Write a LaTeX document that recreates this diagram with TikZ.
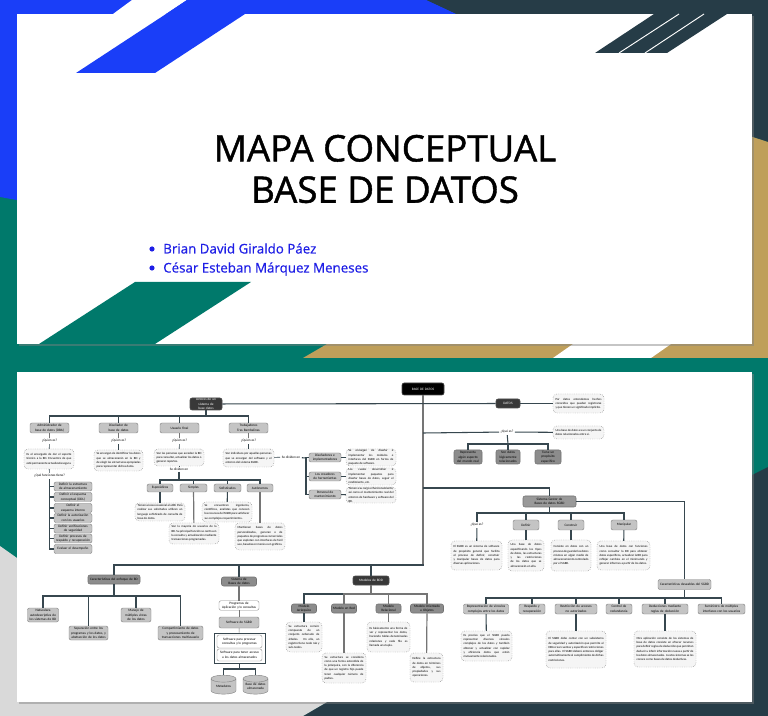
\documentclass[tikz,border=0pt]{standalone}
\usepackage{fontspec}
\setmainfont{Carlito}
\newfontfamily\titlefont[FakeBold=1.2]{Open Sans}
\newfontfamily\authorfont[FakeBold=0.5]{Open Sans}
\usetikzlibrary{shapes.geometric,shadows}

\definecolor{bgblue}{HTML}{1A3EF8}
\definecolor{bggreen}{HTML}{00796B}
\definecolor{bgdark}{HTML}{263C47}
\definecolor{bggold}{HTML}{BF9F5A}
\definecolor{bggray}{HTML}{D9D9D9}
\definecolor{authorblue}{HTML}{1E1EE6}
\definecolor{linedark}{HTML}{37474F}
\definecolor{linegray}{HTML}{757575}

\newcommand{\boxfont}{\fontsize{2.55}{3.3}\selectfont\hyphenpenalty=10000\tolerance=9999\emergencystretch=4pt}
\newcommand{\notefont}{\fontsize{2.3}{3.2}\selectfont\hyphenpenalty=10000\tolerance=9999\emergencystretch=4pt}

\tikzset{
	anybox/.style args={#1x#2}{rounded corners=1.5pt,align=center,inner sep=0pt,font=\boxfont,
		minimum width=#1*0.75pt,minimum height=#2*0.75pt,text width=(#1-2)*0.75pt},
	darkbox/.style={anybox=#1,fill=black!78,draw=black!70,text=white},
	midbox/.style={anybox=#1,fill=black!45,draw=black!55},
	graybox/.style={anybox=#1,fill=black!23,draw=black!50,line width=0.3pt},
	whitebox/.style={anybox=#1,fill=white,draw=black!45,line width=0.3pt},
	notebox/.style args={#1x#2}{rounded corners=3pt,align=justify,inner sep=0pt,font=\notefont,
		fill=black!4,draw=black!60,line width=0.35pt,densely dotted,
		minimum width=#1*0.75pt,minimum height=#2*0.75pt,text width=(#1-5)*0.75pt},
	asklabel/.style={font=\boxfont,inner sep=1pt},
	conn/.style={draw=linedark,line width=0.8pt},
	conngray/.style={draw=linegray,line width=0.9pt},
	datacyl/.style={cylinder,shape border rotate=90,aspect=0.35,fill=black!23,draw=black!50,
		line width=0.3pt,inner sep=0pt,minimum width=25*0.75pt,minimum height=19*0.75pt,
		align=center,font=\boxfont,text width=20*0.75pt}
}

\begin{document}
\begin{tikzpicture}[x=0.75pt,y=-0.75pt]
	\useasboundingbox (0,0) rectangle (768,716);

	% backgrounds
	\fill[bggreen] (0,0) rectangle (768,716);
	\fill[bgblue] (0,0) -- (426,0) -- (456,14) -- (456,100) -- (100,215) -- (0,197) -- cycle;
	\fill[bgdark] (426,0) -- (768,0) -- (768,142) -- (700,120) -- (456,14) -- cycle;
	\fill[bggold] (700,120) -- (768,142) -- (768,358) -- (303,358) -- (327,344) -- cycle;
	\fill[white] (573,344) -- (671,344) -- (651,358) -- (553,358) -- cycle;
	\fill[white] (132,0) -- (187,0) -- (166,14) -- (166,20) -- (113,20) -- (113,14) -- cycle;
	\fill[bgdark] (768,467) -- (768,716) -- (303,716) -- (327,702) -- (752,475) -- cycle;
	\fill[bggray] (0,546) -- (17,558) -- (327,702) -- (303,716) -- (0,716) -- cycle;

	\fill[white,drop shadow={shadow xshift=1.2pt,shadow yshift=-1.2pt,opacity=0.45}] (17,14) rectangle (752,344);
	\fill[white,drop shadow={shadow xshift=1.2pt,shadow yshift=-1.2pt,opacity=0.45}] (17,372) rectangle (752,702);

	\fill[bgblue] (166,14) -- (245,14) -- (155,73) -- (76,73) -- cycle;
	\fill[bgblue] (187,0) -- (426,0) -- (456,14) -- (166,14) -- cycle;
	\fill[bgdark] (654,14) -- (727,14) -- (667,53) -- (595,53) -- cycle;
	\draw[white,line width=0.7pt] (679,14) -- (619,53);
	\draw[white,line width=0.7pt] (704,14) -- (645,53);
	\fill[bggreen] (135,282) -- (251,282) -- (155,344) -- (39,344) -- cycle;

	% cover
	\node[font=\titlefont\fontsize{27.5}{31}\selectfont,align=center,inner sep=0pt] (maintitle) at (385,169) {MAPA CONCEPTUAL\\BASE DE DATOS};
	\node[font=\authorfont\fontsize{10}{14.3}\selectfont,align=left,anchor=west,inner sep=0pt,text=authorblue] (authors) at (163,259.5) {Brian David Giraldo Páez\\César Esteban Márquez Meneses};
	\fill[authorblue] (152,249) circle [radius=2.6];
	\fill[authorblue] (152,268) circle [radius=2.6];

	% root
	\node[darkbox=42x12,fill=black] (root) at (423,389) {BASE DE DATOS};
	\node[darkbox=32x12] (actores) at (206,404) {Actores de un sistema de base datos};
	\node[darkbox=24x9] (datos) at (508,403.5) {DATOS};
	\node[notebox=51x19] (datosnote) at (578.5,403.5) {Por datos entendemos hechos conocidos que pueden registrarse y que tienen un significado implícito.};
	\coordinate (rootbar) at (423,404);
	\coordinate (rootend) at (423,565);
	\draw[conngray,line width=1.2pt] (root) -- (rootend);
	\draw[conn] (actores) -- (datos);
	\draw[conn] (datos) -- (datosnote);

	% actores
	\node[graybox=39x10] (dba) at (49.5,428) {Administrador de base de datos (DBA)};
	\node[graybox=39x10] (disenador) at (118.5,428) {Diseñador de base de datos};
	\node[graybox=39x10] (usuario) at (179.5,428) {Usuario final};
	\node[graybox=39x10] (trabajador) at (248.5,428) {Trabajadores Tras Bambalinas};
	\coordinate (actoresbar) at (206,416);
	\draw[conn] (actores) -- (actoresbar);
	\foreach \n in {dba,disenador,usuario,trabajador}
		\draw[conn] (actoresbar) -| (\n);

	\node[asklabel] (dbaq) at (49.5,441) {¿Quién es?};
	\node[asklabel] (disenadorq) at (118.5,441) {¿Quién es?};
	\node[asklabel] (usuarioq) at (179.5,441) {¿Quién es?};
	\node[asklabel] (trabajadorq) at (248.5,441) {¿Quién es?};
	\node[notebox=50x20] (dbanote) at (49,459) {Es el encargado de dar el soporte técnico a la BD. Encuentra de que esté permanente actualizada segura.};
	\node[notebox=49x21] (disenadornote) at (118.5,460.5) {Se encargan de identificar los datos que se almacenarán en la BD y de elegir las estructuras apropiadas para representar dichos datos.};
	\node[notebox=50x17] (usuarionote) at (179,457.5) {Son las personas que acceden la BD para consultar, actualizar los datos o generar reportes.};
	\node[notebox=51x18] (trabajadornote) at (248.5,458) {Son individuos por aquellas personas que se encargan del software y el entorno del sistema SGBD.};
	\foreach \n in {dba,disenador,usuario,trabajador} {
		\draw[conngray,line width=0.4pt] (\n) -- (\n q);
		\draw[conn,line width=0.5pt] (\n q) -- (\n note);
	}

	\node[asklabel] (funcq) at (49.5,476) {¿Qué funciones tiene?};
	\draw[conn,line width=0.5pt] (dbanote) -- (funcq);
	\coordinate (funcbar) at (49.5,482);
	\draw[conn] (funcq) -- (funcbar);
	\node[graybox=38x9] (func1) at (73,486.5) {Definir la estructura de almacenamiento};
	\node[graybox=38x9] (func2) at (73,497) {Definir el esquema conceptual (DDL)};
	\node[graybox=38x9] (func3) at (73,508) {Definir el esquema interno};
	\node[graybox=38x9] (func4) at (73,518) {Definir la autorización con los usuarios};
	\node[graybox=38x9] (func5) at (73,528.5) {Definir verificaciones de seguridad};
	\node[graybox=38x9] (func6) at (73,538.5) {Definir procesos de respaldo y recuperación};
	\node[graybox=38x9] (func7) at (73,549) {Evaluar el desempeño};
	\foreach \n in {func1,func2,func3,func4,func5,func6,func7}
		\draw[conn] (funcbar) |- (\n);

	% usuarios finales
	\node[asklabel] (usuariodiv) at (179,469) {Se dividen en};
	\coordinate (usuariobar) at (179,480);
	\draw[conn,line width=0.5pt] (usuarionote) -- (usuariodiv);
	\draw[conn] (usuariodiv) -- (usuariobar);
	\node[graybox=26x8] (esporadicos) at (160,488) {Esporádicos};
	\node[graybox=27x8] (simples) at (193.5,488) {Simples};
	\node[graybox=27x8] (sofisticados) at (227.5,488) {Sofisticados};
	\node[graybox=26x8] (autonomos) at (260,488) {Autónomos};
	\foreach \n in {esporadicos,simples,sofisticados,autonomos}
		\draw[conn] (usuariobar) -| (\n);
	\node[notebox=50x18] (esporadicosnote) at (160,512) {Tienen acceso ocasional a la BD. Para realizar sus solicitudes utilizan un lenguaje sofisticado de consulta de base de datos.};
	\node[notebox=50x21] (simplesnote) at (194,533.5) {Son la mayoría de usuarios de la BD. Su principal función se centra en la consulta y actualización mediante transacciones programadas.};
	\node[notebox=50x20] (sofisticadosnote) at (227,512) {Se encuentran ingenieros, científicos, analistas que conocen los recursos del SGBD para satisfacer sus complejos requerimientos.};
	\node[notebox=50x27] (autonomosnote) at (260,536.5) {Mantienen bases de datos personalizadas, generan o de paquetes de programas comerciales que explotan con interfaces de fácil uso, basadas en menús o en gráficos.};
	\draw[conn] (esporadicos) -- (esporadicosnote);
	\draw[conngray] (simples) -- (simplesnote);
	\draw[conn] (sofisticados) -- (sofisticadosnote);
	\draw[conngray] (autonomos) -- (autonomosnote);

	% trabajadores
	\node[asklabel] (trabajadordiv) at (291,457) {Se dividen en};
	\coordinate (trabajadorbar) at (306,458);
	\draw[conn,line width=0.5pt] (trabajadornote) -- (trabajadordiv);
	\draw[conn] (trabajadordiv) -- (trabajadorbar);
	\node[graybox=32x9] (creador1) at (325,457.5) {Diseñadores e implementadores};
	\node[graybox=32x9] (creador2) at (325,476.5) {Los creadores de herramientas};
	\node[graybox=32x9] (creador3) at (325,494.5) {Personal de mantenimiento};
	\node[notebox=50x17] (creador1note) at (371,457.5) {Se encargan de diseñar e implementar los módulos e interfaces del SGBD en forma de paquete de software.};
	\node[notebox=50x17] (creador2note) at (371,476.5) {Los cuales desarrollan e implementan paquetes para diseñar bases de datos, seguir el rendimiento, etc.};
	\node[notebox=50x16] (creador3note) at (371,495) {Tienen a su cargo el funcionamiento, así como el mantenimiento real del entorno de hardware y software del BD.};
	\foreach \n in {creador1,creador2,creador3} {
		\draw[conn] (trabajadorbar) |- (\n);
		\draw[conn] (\n) -- (\n note);
	}

	% que es
	\node[asklabel] (queesq) at (507,432) {¿Qué es?};
	\node[notebox=51x13] (queesnote) at (578.5,432.5) {Una base de datos es un conjunto de datos relacionados entre sí.};
	\coordinate (queesroot) at (423,433);
	\draw[conn] (queesroot) -- (queesq);
	\draw[conn] (queesq) -- (queesnote);
	\node[midbox=28x14] (rasgo1) at (468,457) {Representa algún aspecto del mundo real};
	\node[midbox=24x14] (rasgo2) at (508,457) {Son datos lógicamente relacionados};
	\node[midbox=26x14] (rasgo3) at (548,457) {Tiene un propósito específico};
	\coordinate (queesbar) at (508,444);
	\draw[conn] (queesq) -- (queesbar);
	\foreach \n in {rasgo1,rasgo2,rasgo3}
		\draw[conn] (queesbar) -| (\n);

	% sgbd
	\node[midbox=53x11,fill=black!40] (sgbd) at (549.5,501.5) {Sistema Gestor de Bases de datos SGBD};
	\coordinate (sgbdroot) at (423,488);
	\draw[conn] (sgbdroot) -| (sgbd);
	\coordinate (sgbdbar) at (549.5,513);
	\draw[conn] (sgbd) -- (sgbdbar);
	\node[asklabel] (sgbdq) at (477,525) {¿Qué es?};
	\node[graybox=26x10] (definir) at (526,525) {Definir};
	\node[graybox=26x10] (construir) at (571,525) {Construir};
	\node[graybox=26x10] (manipular) at (624,525) {Manipular};
	\foreach \n in {sgbdq,definir,construir,manipular}
		\draw[conn] (sgbdbar) -| (\n);
	\node[notebox=51x29] (sgbdnote) at (476.5,555.5) {El SGBD es un sistema de software de propósito general que facilita el proceso de definir, construir y manipular bases de datos para diversas aplicaciones.};
	\node[notebox=36x31] (definirnote) at (526,555.5) {Una base de datos especificando los tipos de datos, las estructuras y las restricciones de los datos que se almacenarán en ella.};
	\node[notebox=40x31] (construirnote) at (571,555.5) {Consiste en datos con un proceso de guardar los datos mismos en algún medio de almacenamiento controlado por el SGBD.};
	\node[notebox=53x29] (manipularnote) at (623.5,555.5) {Una base de datos con funciones como consultar la BD para obtener datos específicos, actualizar la BD para reflejar cambios en el minimundo y generar informes a partir de los datos.};
	\draw[conn] (sgbdq) -- (sgbdnote);
	\foreach \n in {definir,construir,manipular}
		\draw[conn] (\n) -- (\n note);

	% caracteristicas sgbd
	\node[graybox=53x10] (carsgbd) at (684.5,584.5) {Características deseables del SGBD};
	\draw[conn] (sgbd) -| (carsgbd);
	\coordinate (carsgbdbar) at (684.5,598);
	\draw[conn] (carsgbd) -- (carsgbdbar);
	\node[graybox=45x10] (cars1) at (486,609) {Representación de vínculos complejos entre los datos};
	\node[graybox=26x10] (cars2) at (532,609) {Respaldo y recuperación};
	\node[graybox=42x10] (cars3) at (576,609) {Restricción de accesos no autorizados};
	\node[graybox=26x10] (cars4) at (619,609) {Control de redundancia};
	\node[graybox=46x10] (cars5) at (665,609) {Deducciones mediante reglas de deducción};
	\node[graybox=47x10] (cars6) at (721.5,609) {Suministro de múltiples interfaces con los usuarios};
	\foreach \n in {cars1,cars2,cars3,cars4,cars5,cars6}
		\draw[conn] (carsgbdbar) -| (\n);
	\node[notebox=51x30] (cars1note) at (486.5,646) {Es preciso que el SGBD pueda representar diversos vínculos complejos de los datos y también obtener y actualizar con rapidez y eficiencia datos que están mutuamente relacionados.};
	\node[notebox=60x37] (cars3note) at (576,649.5) {El SGBD debe contar con un subsistema de seguridad y autorización que permite al DBA crear cuentas y especificar restricciones para ellas. El SGBD deberá entonces obligar automáticamente al cumplimiento de dichas restricciones.};
	\node[notebox=62x36] (cars5note) at (665,649) {Otra aplicación consiste de los sistemas de base de datos consiste en ofrecer recursos para definir reglas de deducción que permitan deducir u inferir información nueva a partir de los datos almacenados. A estos sistemas se les conoce como bases de datos deductivas.};
	\foreach \n in {cars1,cars3,cars5}
		\draw[conn] (\n) -- (\n note);

	% rama inferior
	\coordinate (lowbar) at (423.5,565);
	\node[midbox=52x9] (enfoque) at (114,579.5) {Características del enfoque de BD};
	\node[midbox=35x9] (sistema) at (239,581.5) {Sistema de Bases de datos};
	\node[darkbox=36x9] (modelos) at (371,580.5) {Modelos de BDD};
	\draw[conn] (lowbar) -| (enfoque);
	\draw[conn] (lowbar) -| (sistema);
	\draw[conn] (lowbar) -| (modelos);

	% enfoque
	\coordinate (enfoquebar) at (114,596);
	\draw[conn] (enfoque) -- (enfoquebar);
	\node[graybox=31x14] (enfoque1) at (43,615) {Naturaleza autodescriptiva de los sistemas de BD};
	\node[graybox=39x14] (enfoque2) at (88.5,633) {Separación entre los programas y los datos, y abstracción de los datos};
	\node[graybox=30x14] (enfoque3) at (136,615) {Manejo de múltiples vistas de los datos};
	\node[graybox=45x14] (enfoque4) at (180.5,633) {Compartimiento de datos y procesamiento de transacciones multiusuario};
	\foreach \n in {enfoque1,enfoque2,enfoque3,enfoque4}
		\draw[conn] (enfoquebar) -| (\n);

	% sistema
	\node[whitebox=40x9.5] (programas) at (239,605.5) {Programas de Aplicación y/o consultas};
	\node[graybox=40x11] (softsgbd) at (239,622.5) {Software de SGBD};
	\node[draw=linedark,line width=0.7pt,inner sep=0pt,minimum width=51*0.75pt,minimum height=30*0.75pt] (softframe) at (239.5,648) {};
	\node[whitebox=45x13] (softproc) at (239.5,641.5) {Software para procesar consultas y/o programas};
	\node[whitebox=45x12] (softacc) at (239.5,655) {Software para tener acceso a los datos almacenados};
	\node[datacyl] (metadatos) at (223.5,686.5) {Metadatos};
	\node[datacyl] (almacenada) at (255.5,686.5) {Base de datos almacenada};
	\coordinate (softbar) at (239.5,669);
	\draw[conngray] (sistema) -- (programas);
	\draw[conngray,line width=0.4pt] (programas) -- (softsgbd);
	\draw[conngray,line width=0.4pt] (softsgbd) -- (softframe);
	\draw[conn] (softframe) -- (softbar);
	\draw[conn] (softbar) -| (metadatos);
	\draw[conn] (softbar) -| (almacenada);

	% modelos
	\coordinate (modelosbar) at (371,594);
	\draw[conngray] (modelos) -- (modelosbar);
	\node[midbox=25x9] (jerarquico) at (304,608.5) {Modelo Jerárquico};
	\node[midbox=25x9] (red) at (344,608.5) {Modelo en Red};
	\node[midbox=25x9] (relacional) at (388.5,608.5) {Modelo Relacional};
	\node[midbox=33x9] (objetos) at (427,608.5) {Modelo Orientado a Objetos};
	\draw[conn] (modelosbar) -| (jerarquico);
	\foreach \n in {red,relacional,objetos}
		\draw[conngray] (modelosbar) -| (\n);
	\node[notebox=36x30] (jerarquiconote) at (304,637) {Su estructura común: compuesta de un conjunto ordenado de árboles. En ella, un registro tiene nodo raíz y sub-nodos.};
	\node[notebox=44x30] (rednote) at (344,668) {Su estructura se considera como una forma extendida de la jerárquica, con la diferencia de que un registro hijo puede tener cualquier número de padres.};
	\node[notebox=43x30] (relacionalnote) at (388.5,637) {Es básicamente una forma de ver y representar los datos, haciendo tablas denominadas relaciones y cada fila es llamada una tupla.};
	\node[notebox=33x29] (objetosnote) at (426.5,667.5) {Define la estructura de datos en términos de objetos, sus propiedades y sus operaciones.};
	\draw[conn] (jerarquico) -- (jerarquiconote);
	\foreach \n in {red,relacional,objetos}
		\draw[conngray] (\n) -- (\n note);
\end{tikzpicture}
\end{document}
